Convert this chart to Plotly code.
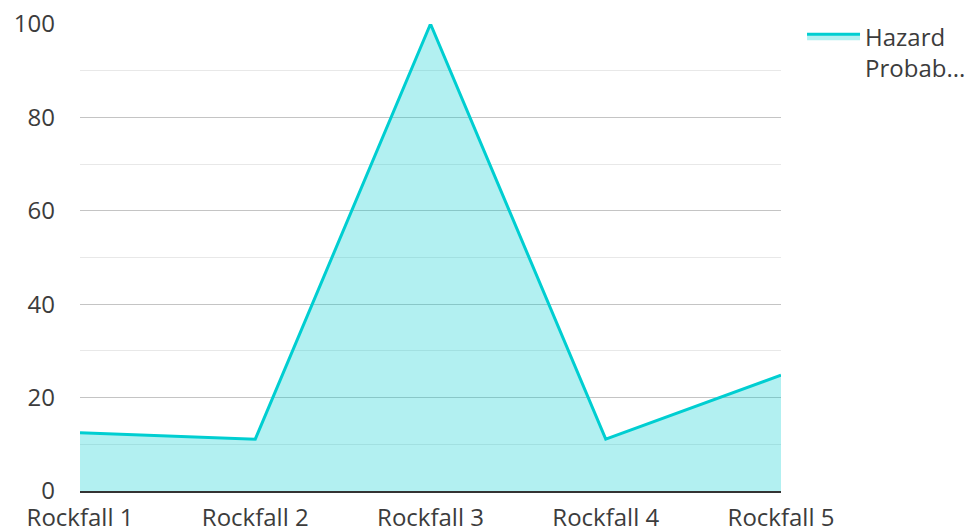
import plotly.graph_objects as go

categories = ["Rockfall 1", "Rockfall 2", "Rockfall 3", "Rockfall 4", "Rockfall 5"]
hazard_probability = [12.5, 11.1, 100, 11.1, 24.8]
y_ticks = [0, 20, 40, 60, 80, 100]
series_name = "Hazard<br>Probab..."

x_pos = list(range(len(categories)))

fig = go.Figure()
fig.add_trace(go.Scatter(
    x=x_pos, y=hazard_probability, mode="lines", name=series_name,
    line=dict(color="#00CED1", width=3),
    fill="tozeroy", fillcolor="rgba(0,206,209,0.3)",
))

font = dict(family="Open Sans", size=24, color="#3c3c3c")
fig.update_layout(
    width=971, height=531,
    margin=dict(l=80, r=190, t=24, b=40, autoexpand=False),
    paper_bgcolor="white", plot_bgcolor="white",
    font=font,
    showlegend=True,
    legend=dict(x=1.03, y=1.021, xanchor="left", yanchor="top",
                font=font, bgcolor="rgba(0,0,0,0)", itemwidth=53,
                valign="top"),
    xaxis=dict(
        range=[0, len(categories) - 1], tickmode="array", tickvals=x_pos,
        ticktext=categories, showgrid=False, zeroline=False,
        showline=True, linecolor="#333333", linewidth=2,
        ticks="", ticklabelstandoff=4, tickfont=font, automargin=False,
    ),
    yaxis=dict(
        range=[0, 100], tickmode="array", tickvals=y_ticks,
        showgrid=True, gridcolor="#c4c4c4", gridwidth=1.3,
        zeroline=False, showline=False, ticks="",
        ticklabelstandoff=24, tickfont=font, automargin=False,
        minor=dict(dtick=10, showgrid=True, gridcolor="#e8e8e8", gridwidth=1.3),
    ),
)

fig.write_html("out.html")
